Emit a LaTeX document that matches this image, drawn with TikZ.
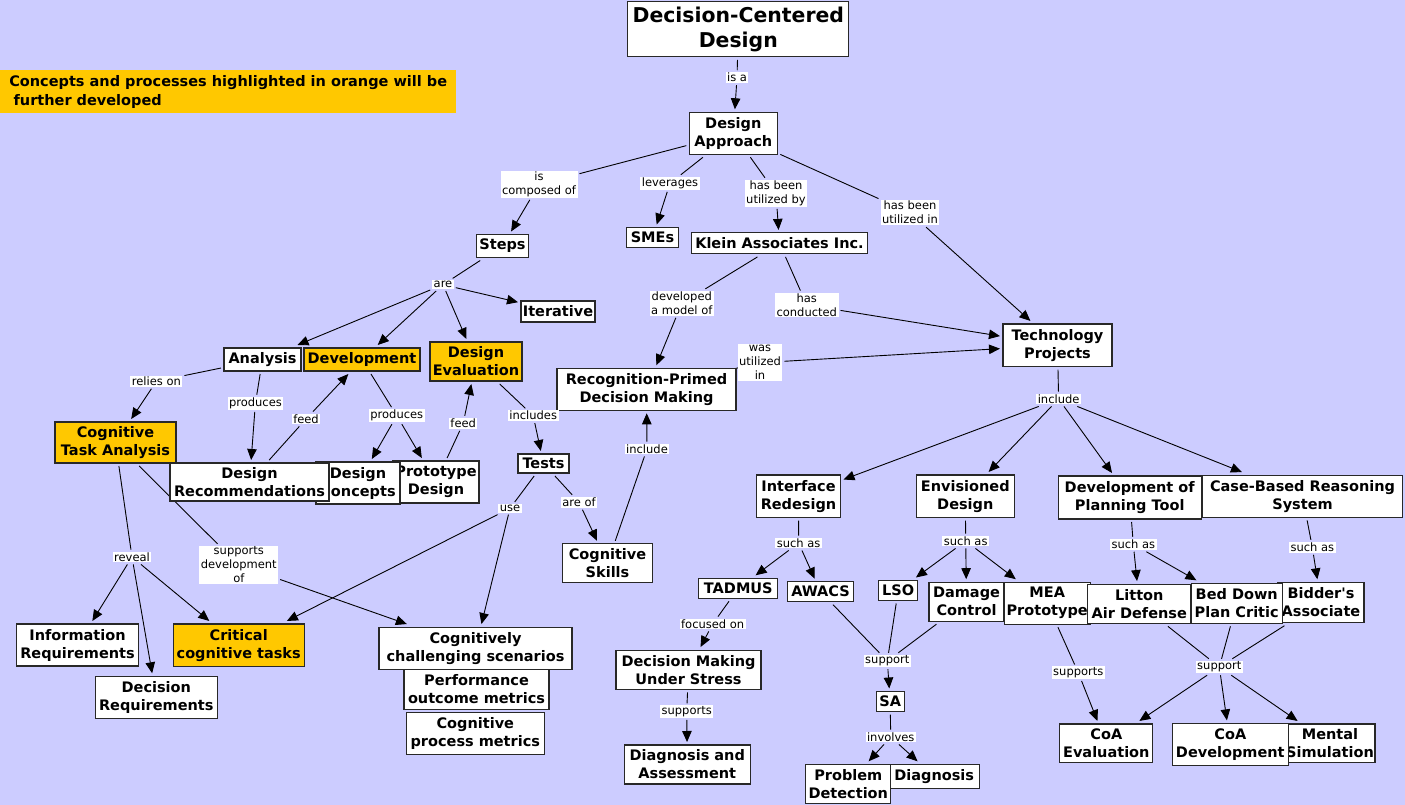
\documentclass[tikz,border=0pt]{standalone}
\usepackage{fontspec}
\setmainfont{DejaVu Sans}
\usetikzlibrary{arrows.meta}
\pgfdeclarelayer{bg}
\pgfdeclarelayer{edges}
\pgfsetlayers{bg,edges,main}
\definecolor{lav}{RGB}{204,204,255}
\definecolor{orng}{RGB}{255,200,0}
\definecolor{bord}{RGB}{40,40,40}
\tikzset{
 cbox/.style={draw=bord, line width=1.1pt, fill=white, align=center, inner sep=1pt, outer sep=3pt, font=\fontsize{14.5}{18}\selectfont\bfseries},
 hl/.style={cbox, fill=orng},
 lbl/.style={fill=white, inner xsep=1.5pt, inner ysep=1pt, outer sep=2pt, align=center, font=\fontsize{11.5}{14}\selectfont},
 ln/.style={draw=black, line width=0.9pt},
 arr/.style={ln, -{Triangle[length=11pt,width=9.5pt]}},
}
\begin{document}
\begin{tikzpicture}[x=1pt,y=-1pt]
\begin{pgfonlayer}{bg}
\fill[lav] (0,0) rectangle (1405,805);
\end{pgfonlayer}
\useasboundingbox (0,0) rectangle (1405,805);

% legend
\node[fill=orng, anchor=north west, align=left, minimum width=456pt, minimum height=43pt, inner sep=0pt,
      font=\fontsize{14.5}{19}\selectfont\bfseries] (legend) at (0,70)
  {Concepts and processes highlighted in orange will be\\\hspace*{0.3em}further developed};

% concept nodes
\node[cbox, minimum width=221pt, minimum height=55pt, font=\fontsize{20.4}{25}\selectfont\bfseries] (dcd) at (738.3,29.3) {Decision-Centered\\Design};
\node[cbox, minimum width=88pt, minimum height=42pt] (da) at (733.3,133.3) {Design\\Approach};
\node[cbox, minimum width=52pt, minimum height=23pt] (steps) at (502.5,246) {Steps};
\node[cbox, minimum width=52pt, minimum height=20pt] (smes) at (652.5,237.5) {SMEs};
\node[cbox, minimum width=176pt, minimum height=21pt] (klein) at (779.5,243.4) {Klein Associates Inc.};
\node[cbox, minimum width=74pt, minimum height=21pt] (iter) at (558,311.5) {Iterative};
\node[cbox, minimum width=77pt, minimum height=23pt] (analysis) at (262.5,359.5) {Analysis};
\node[hl, minimum width=116pt, minimum height=23pt] (devel) at (362,359.5) {Development};
\node[hl, minimum width=92pt, minimum height=39pt] (deval) at (476,361.5) {Design\\Evaluation};
\node[hl, minimum width=121pt, minimum height=41pt] (cta) at (115.5,442.5) {Cognitive\\Task Analysis};
\node[cbox, minimum width=86pt, minimum height=42pt] (pd) at (436,482) {Prototype\\Design};
\node[cbox, minimum width=84pt, minimum height=42pt] (dc) at (358,483) {Design\\Concepts};
\node[cbox, minimum width=159pt, minimum height=38pt] (dr) at (249.5,482) {Design\\Recommendations};
\node[cbox, minimum width=51pt, minimum height=19pt] (tests) at (543.5,463.5) {Tests};
\node[cbox, minimum width=90pt, minimum height=39pt] (cs) at (607.5,563.3) {Cognitive\\Skills};
\node[cbox, minimum width=179pt, minimum height=42pt] (rpd) at (646.5,389.3) {Recognition-Primed\\Decision Making};
\node[cbox, minimum width=109pt, minimum height=42.7pt] (tech) at (1057.5,345.3) {Technology\\Projects};
\node[cbox, minimum width=84pt, minimum height=42.7pt] (ir) at (798.5,496.3) {Interface\\Redesign};
\node[cbox, minimum width=98pt, minimum height=42.7pt] (ed) at (965.3,496.3) {Envisioned\\Design};
\node[cbox, minimum width=143pt, minimum height=43pt] (dpt) at (1129.7,497.5) {Development of\\Planning Tool};
\node[cbox, minimum width=200pt, minimum height=42.3pt] (cbr) at (1302.5,496.2) {Case-Based Reasoning\\System};
\node[cbox, minimum width=79pt, minimum height=20pt] (tadmus) at (738.3,588.3) {TADMUS};
\node[cbox, minimum width=66pt, minimum height=20pt] (awacs) at (820.5,591.7) {AWACS};
\node[cbox, minimum width=39pt, minimum height=20pt] (lso) at (898.2,590.5) {LSO};
\node[cbox, minimum width=75pt, minimum height=39pt] (dmc) at (966.5,601.7) {Damage\\Control};
\node[cbox, minimum width=86pt, minimum height=42pt] (mea) at (1047.2,603.2) {MEA\\Prototype};
\node[cbox, minimum width=86pt, minimum height=40.4pt] (bid) at (1321,602.5) {Bidder\textquotesingle s\\Associate};
\node[cbox, minimum width=91pt, minimum height=40pt] (bed) at (1236.7,603.3) {Bed Down\\Plan Critic};
\node[cbox, minimum width=103pt, minimum height=39.3pt] (litton) at (1139.3,603.7) {Litton\\Air Defense};
\node[cbox, minimum width=145pt, minimum height=39.3pt] (dmus) at (688.5,669.7) {Decision Making\\Under Stress};
\node[cbox, minimum width=126pt, minimum height=39pt] (daa) at (687.3,764.5) {Diagnosis and\\Assessment};
\node[cbox, minimum width=28pt, minimum height=20pt] (sa) at (890.2,701.5) {SA};
\node[cbox, minimum width=90pt, minimum height=24pt] (diag) at (934.2,776.3) {Diagnosis};
\node[cbox, minimum width=85pt, minimum height=39pt] (pdet) at (848.3,783.8) {Problem\\Detection};
\node[cbox, minimum width=93pt, minimum height=38.7pt] (coae) at (1106.3,743.3) {CoA\\Evaluation};
\node[cbox, minimum width=90pt, minimum height=38.7pt] (ms) at (1330,743.3) {Mental\\Simulation};
\node[cbox, minimum width=116pt, minimum height=41.7pt] (coad) at (1230.3,744.2) {CoA\\Development};
\node[cbox, minimum width=122pt, minimum height=42pt] (inforeq) at (77.5,645) {Information\\Requirements};
\node[cbox, minimum width=122pt, minimum height=42pt] (dreq) at (156.3,697.3) {Decision\\Requirements};
\node[hl, minimum width=131pt, minimum height=42.7pt] (crit) at (238.7,645.3) {Critical\\cognitive tasks};
\node[cbox, minimum width=145pt, minimum height=40pt] (pom) at (476.5,689.2) {Performance\\outcome metrics};
\node[cbox, minimum width=193pt, minimum height=42.3pt] (ccs) at (475.5,648.2) {Cognitively\\challenging scenarios};
\node[cbox, minimum width=138pt, minimum height=42pt] (cpm) at (475.3,733.3) {Cognitive\\process metrics};

% linking phrases
\node[lbl] (lisa) at (737,77.7) {is a};
\node[lbl] (lcomp) at (539,184.3) {is\\composed of};
\node[lbl] (llev) at (670,183.3) {leverages};
\node[lbl] (luby) at (776,193.3) {has been\\utilized by};
\node[lbl] (luin) at (910,212.7) {has been\\utilized in};
\node[lbl] (lare) at (443,284.7) {are};
\node[lbl] (lrel) at (156.4,381.3) {relies on};
\node[lbl] (lprodA) at (255.4,403.3) {produces};
\node[lbl] (lfeedA) at (306,419) {feed};
\node[lbl] (lprodB) at (396.8,415.7) {produces};
\node[lbl] (lfeedB) at (463.2,423.3) {feed};
\node[lbl] (lincl) at (533.2,415.7) {includes};
\node[lbl] (luse) at (510,508.3) {use};
\node[lbl] (lareof) at (579,502.3) {are of};
\node[lbl] (lincB) at (647,449) {include};
\node[lbl] (ldev) at (681.8,303.3) {developed\\a model of};
\node[lbl] (lcond) at (806.8,305) {has\\conducted};
\node[lbl] (lwas) at (760,362.7) {was\\utilized\\in};
\node[lbl] (lincC) at (1058.6,399) {include};
\node[lbl] (lsaA) at (798.6,543) {such as};
\node[lbl] (lsaB) at (965.7,541) {such as};
\node[lbl] (lsaC) at (1133.3,544.3) {such as};
\node[lbl] (lsaD) at (1312.3,547.3) {such as};
\node[lbl] (lfoc) at (712.7,624) {focused on};
\node[lbl] (lsupA) at (686.7,711.7) {supports};
\node[lbl] (lsupB) at (887.3,661) {support};
\node[lbl] (linv) at (890.7,737) {involves};
\node[lbl] (lsupC) at (1078.3,672.7) {supports};
\node[lbl] (lsupD) at (1219.3,667) {support};
\node[lbl] (lrev) at (132,557) {reveal};
\node[lbl] (lsdo) at (238.8,565) {supports\\development\\of};

\begin{pgfonlayer}{edges}
\draw[ln] (dcd) -- (lisa); \draw[arr] (lisa) -- (da);
\draw[ln] (da) -- (lcomp); \draw[arr] (lcomp) -- (steps);
\draw[ln] (da) -- (llev); \draw[arr] (llev) -- (smes);
\draw[ln] (da) -- (luby); \draw[arr] (luby) -- (klein);
\draw[ln] (da) -- (luin); \draw[arr] (luin) -- (tech);
\draw[ln] (steps) -- (lare);
\draw[arr] (lare) -- (analysis); \draw[arr] (lare) -- (devel);
\draw[arr] (lare) -- (deval); \draw[arr] (lare) -- (iter);
\draw[ln] (analysis) -- (lrel); \draw[arr] (lrel) -- (cta);
\draw[ln] (analysis) -- (lprodA); \draw[arr] (lprodA) -- (dr);
\draw[ln] (dr) -- (lfeedA); \draw[arr] (lfeedA) -- (devel);
\draw[ln] (devel) -- (lprodB); \draw[arr] (lprodB) -- (dc); \draw[arr] (lprodB) -- (pd);
\draw[ln] (pd) -- (lfeedB); \draw[arr] (lfeedB) -- (deval);
\draw[ln] (deval) -- (lincl); \draw[arr] (lincl) -- (tests);
\draw[ln] (tests) -- (luse); \draw[arr] (luse) -- (crit); \draw[arr] (luse) -- (ccs);
\draw[ln] (tests) -- (lareof); \draw[arr] (lareof) -- (cs);
\draw[ln] (cs) -- (lincB); \draw[arr] (lincB) -- (rpd);
\draw[ln] (klein) -- (ldev); \draw[arr] (ldev) -- (rpd);
\draw[ln] (klein) -- (lcond); \draw[arr] (lcond) -- (tech);
\draw[ln] (rpd) -- (lwas); \draw[arr] (lwas) -- (tech);
\draw[ln] (tech) -- (lincC);
\draw[arr] (lincC) -- (ir); \draw[arr] (lincC) -- (ed);
\draw[arr] (lincC) -- (dpt); \draw[arr] (lincC) -- (cbr);
\draw[ln] (ir) -- (lsaA); \draw[arr] (lsaA) -- (tadmus); \draw[arr] (lsaA) -- (awacs);
\draw[ln] (ed) -- (lsaB); \draw[arr] (lsaB) -- (lso); \draw[arr] (lsaB) -- (dmc); \draw[arr] (lsaB) -- (mea);
\draw[ln] (dpt) -- (lsaC); \draw[arr] (lsaC) -- (litton); \draw[arr] (lsaC) -- (bed);
\draw[ln] (cbr) -- (lsaD); \draw[arr] (lsaD) -- (bid);
\draw[ln] (tadmus) -- (lfoc); \draw[arr] (lfoc) -- (dmus);
\draw[ln] (dmus) -- (lsupA); \draw[arr] (lsupA) -- (daa);
\draw[ln] (awacs) -- (lsupB); \draw[ln] (lso) -- (lsupB); \draw[ln] (dmc) -- (lsupB);
\draw[arr] (lsupB) -- (sa);
\draw[ln] (sa) -- (linv); \draw[arr] (linv) -- (pdet); \draw[arr] (linv) -- (diag);
\draw[ln] (mea) -- (lsupC); \draw[arr] (lsupC) -- (coae);
\draw[ln] (litton) -- (lsupD); \draw[ln] (bed) -- (lsupD); \draw[ln] (bid) -- (lsupD);
\draw[arr] (lsupD) -- (coae); \draw[arr] (lsupD) -- (coad); \draw[arr] (lsupD) -- (ms);
\draw[ln] (cta) -- (lrev);
\draw[arr] (lrev) -- (inforeq); \draw[arr] (lrev) -- (dreq); \draw[arr] (lrev) -- (crit);
\draw[ln] (cta) -- (lsdo); \draw[arr] (lsdo) -- (ccs);
\end{pgfonlayer}
\end{tikzpicture}
\end{document}
